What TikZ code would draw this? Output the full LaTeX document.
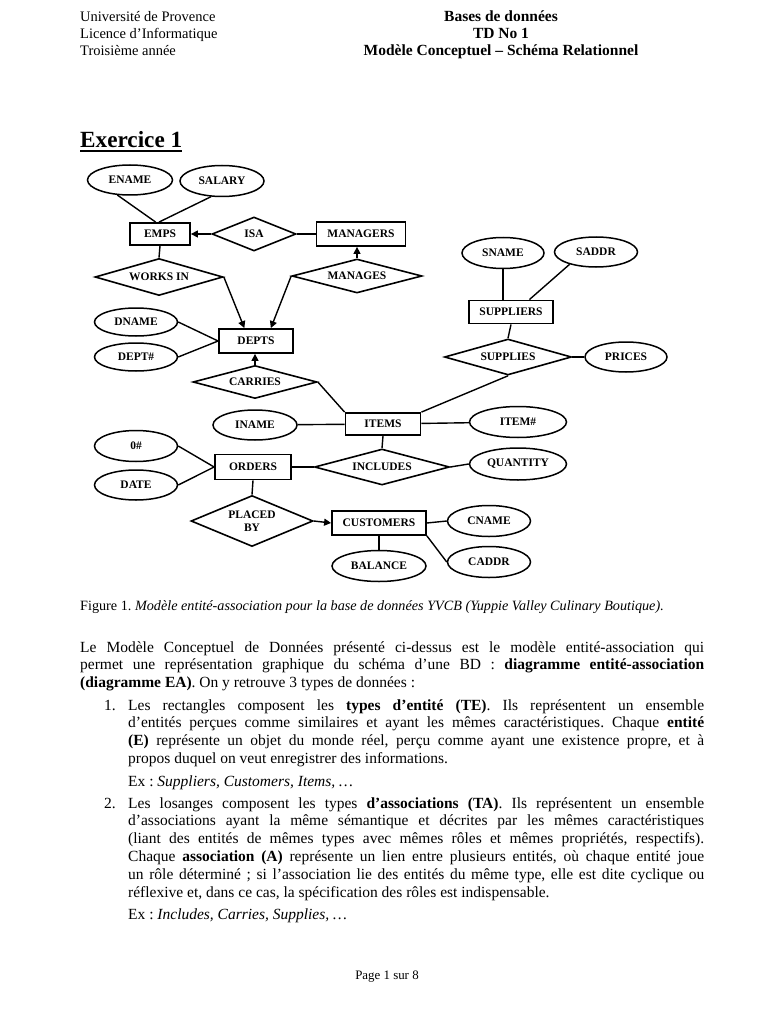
\documentclass[tikz,border=0pt]{standalone}
\usepackage{fontspec}
\setmainfont{Liberation Serif}
\usetikzlibrary{shapes.geometric, arrows.meta}
\tikzset{
  erfont/.style={font=\fontsize{11.5}{13}\selectfont\bfseries},
  dims/.style 2 args={minimum width=#1, minimum height=#2},
  entity/.style={rectangle, draw=black, line width=1.8pt, inner sep=0pt, erfont},
  attrib/.style={ellipse, draw=black, line width=1.5pt, inner sep=0pt, erfont},
  assoc/.style={diamond, aspect=3.5, draw=black, line width=1.6pt, inner sep=0pt, align=center, erfont},
  link/.style={line width=1.4pt},
  arrow/.style={-{Triangle[length=7pt, width=7pt]}, line width=1.4pt},
  body/.style={anchor=base west, inner sep=0pt, align=justify, font=\fontsize{15.5}{17.8}\selectfont}
}

\begin{document}
\hyphenpenalty=10000 \exhyphenpenalty=10000 \frenchspacing
\begin{tikzpicture}[x=1pt, y=-1pt]
  \useasboundingbox[fill=white] (0,0) rectangle (768,1024);

  % header
  \node[anchor=base west, inner sep=0pt, align=left, font=\fontsize{14.5}{17}\selectfont] (uni) at (80,56)
    {Université de Provence\\Licence d’Informatique\\Troisième année};
  \node[anchor=base, inner sep=0pt, align=center, font=\fontsize{15.5}{17}\selectfont\bfseries] (course) at (501,56)
    {Bases de données\\TD No 1\\Modèle Conceptuel – Schéma Relationnel};
  \node[anchor=base west, inner sep=0pt, font=\fontsize{23.2}{26}\selectfont\bfseries] (title) at (80,148) {Exercice 1};
  \draw[line width=1.6pt] ([yshift=-3pt]title.base west) -- ([yshift=-3pt]title.base east);

  % entities
  \node[entity, dims={60pt}{22pt}] (emps) at (160,234) {EMPS};
  \node[entity, dims={89pt}{24pt}] (managers) at (361,234) {MANAGERS};
  \node[entity, dims={74pt}{24pt}] (depts) at (256,341) {DEPTS};
  \node[entity, dims={84pt}{23pt}] (suppliers) at (511,312) {SUPPLIERS};
  \node[entity, dims={75pt}{22pt}] (items) at (383,424) {ITEMS};
  \node[entity, dims={76pt}{25pt}] (orders) at (253,467) {ORDERS};
  \node[entity, dims={94pt}{24pt}] (customers) at (379,523) {CUSTOMERS};

  % attributes
  \node[attrib, dims={85pt}{30pt}] (ename) at (130,180) {ENAME};
  \node[attrib, dims={84pt}{31pt}] (salary) at (222,181) {SALARY};
  \node[attrib, dims={83pt}{28pt}] (dname) at (136,322) {DNAME};
  \node[attrib, dims={83pt}{28pt}] (deptno) at (136,357) {DEPT\#};
  \node[attrib, dims={82pt}{31pt}] (sname) at (503,253) {SNAME};
  \node[attrib, dims={83pt}{30pt}] (saddr) at (596,252) {SADDR};
  \node[attrib, dims={82pt}{30pt}] (prices) at (626,357) {PRICES};
  \node[attrib, dims={84pt}{30pt}] (iname) at (255,425) {INAME};
  \node[attrib, dims={97pt}{31pt}] (itemno) at (518,422) {ITEM\#};
  \node[attrib, dims={97pt}{32pt}] (quantity) at (518,464) {QUANTITY};
  \node[attrib, dims={83pt}{31pt}] (ono) at (136,446) {0\#};
  \node[attrib, dims={83pt}{30pt}] (date) at (136,485) {DATE};
  \node[attrib, dims={83pt}{31pt}] (cname) at (489,521) {CNAME};
  \node[attrib, dims={83pt}{31pt}] (caddr) at (489,562) {CADDR};
  \node[attrib, dims={94pt}{31pt}] (balance) at (379,566) {BALANCE};

  % associations
  \node[assoc, dims={84pt}{34pt}] (isa) at (254,234) {ISA};
  \node[assoc, dims={128pt}{37pt}] (worksin) at (159,277) {WORKS IN};
  \node[assoc, dims={130pt}{34pt}] (manages) at (357,276) {MANAGES};
  \node[assoc, dims={124pt}{33pt}] (carries) at (255,382) {CARRIES};
  \node[assoc, dims={127pt}{36pt}] (supplies) at (508,357) {SUPPLIES};
  \node[assoc, dims={135pt}{36pt}] (includes) at (382,467) {INCLUDES};
  \node[assoc, aspect=2.4, dims={122pt}{51pt}] (placedby) at (252,521) {PLACED\\BY};

  % links
  \draw[link] (ename.230) -- (emps.110);
  \draw[link] (salary.235) -- (emps.95);
  \draw[arrow] (isa) -- (emps);
  \draw[link] (isa) -- (managers);
  \draw[link] (emps.south) -- (worksin.north);
  \draw[arrow] (worksin.east) -- (depts.132);
  \draw[arrow] (manages.west) -- (depts.41);
  \draw[arrow] (manages.north) -- (manages.north |- managers.south);
  \draw[link] (dname.east) -- (depts.west);
  \draw[link] (deptno.east) -- (depts.west);
  \draw[arrow] (carries.north) -- (carries.north |- depts.south);
  \draw[link] (carries.east) -- (items.north west);
  \draw[link] (iname) -- (items);
  \draw[link] (items) -- (itemno);
  \draw[link] (sname.south) -- (sname.south |- suppliers.north);
  \draw[link] (saddr.205) -- (suppliers.34);
  \draw[link] (suppliers.south) -- (supplies.north);
  \draw[link] (supplies.east) -- (prices.west);
  \draw[link] (supplies.south) -- (items.north east);
  \draw[link] (items.south) -- (includes.north);
  \draw[link] (includes.east) -- (quantity.west);
  \draw[link] (orders.east) -- (includes.west);
  \draw[link] (ono.east) -- (orders.west);
  \draw[link] (date.east) -- (orders.west);
  \draw[link] (orders.south) -- (placedby.north);
  \draw[arrow] (placedby.east) -- (customers.west);
  \draw[link] (customers.east) -- (cname.west);
  \draw[link] (customers.south east) -- (caddr.west);
  \draw[link] (customers.south) -- (balance.north);

  % caption and text
  \node[anchor=base west, inner sep=0pt, font=\fontsize{14.2}{16}\selectfont] (caption) at (80,610)
    {Figure 1. \textit{Modèle entité-association pour la base de données YVCB (Yuppie Valley Culinary Boutique).}};
  \node[body, text width=624pt] (intro) at (80,652)
    {Le Modèle Conceptuel de Données présenté ci-dessus est le modèle entité-association qui\linebreak
     permet une représentation graphique du schéma d’une BD : \textbf{diagramme entité-association}\linebreak
     \textbf{(diagramme EA)}. On y retrouve 3 types de données :};
  \node[body] (num1) at (104,710) {1.};
  \node[body, text width=576pt] (item1) at (128,710)
    {Les rectangles composent les \textbf{types d’entité (TE)}. Ils représentent un ensemble\linebreak
     d’entités perçues comme similaires et ayant les mêmes caractéristiques. Chaque \textbf{entité}\linebreak
     \textbf{(E)} représente un objet du monde réel, perçu comme ayant une existence propre, et à\linebreak
     propos duquel on veut enregistrer des informations.};
  \node[body] (ex1) at (128,786) {Ex : \textit{Suppliers, Customers, Items, …}};
  \node[body] (num2) at (104,808) {2.};
  \node[body, text width=576pt] (item2) at (128,808)
    {Les losanges composent les types \textbf{d’associations (TA)}. Ils représentent un ensemble\linebreak
     d’associations ayant la même sémantique et décrites par les mêmes caractéristiques\linebreak
     (liant des entités de mêmes types avec mêmes rôles et mêmes propriétés, respectifs).\linebreak
     Chaque \textbf{association (A)} représente un lien entre plusieurs entités, où chaque entité joue\linebreak
     un rôle déterminé ; si l’association lie des entités du même type, elle est dite cyclique ou\linebreak
     réflexive et, dans ce cas, la spécification des rôles est indispensable.};
  \node[body] (ex2) at (128,919) {Ex : \textit{Includes, Carries, Supplies, …}};
  \node[anchor=base, inner sep=0pt, font=\fontsize{12.9}{15}\selectfont] (page) at (387,979) {Page 1 sur 8};
\end{tikzpicture}
\end{document}
